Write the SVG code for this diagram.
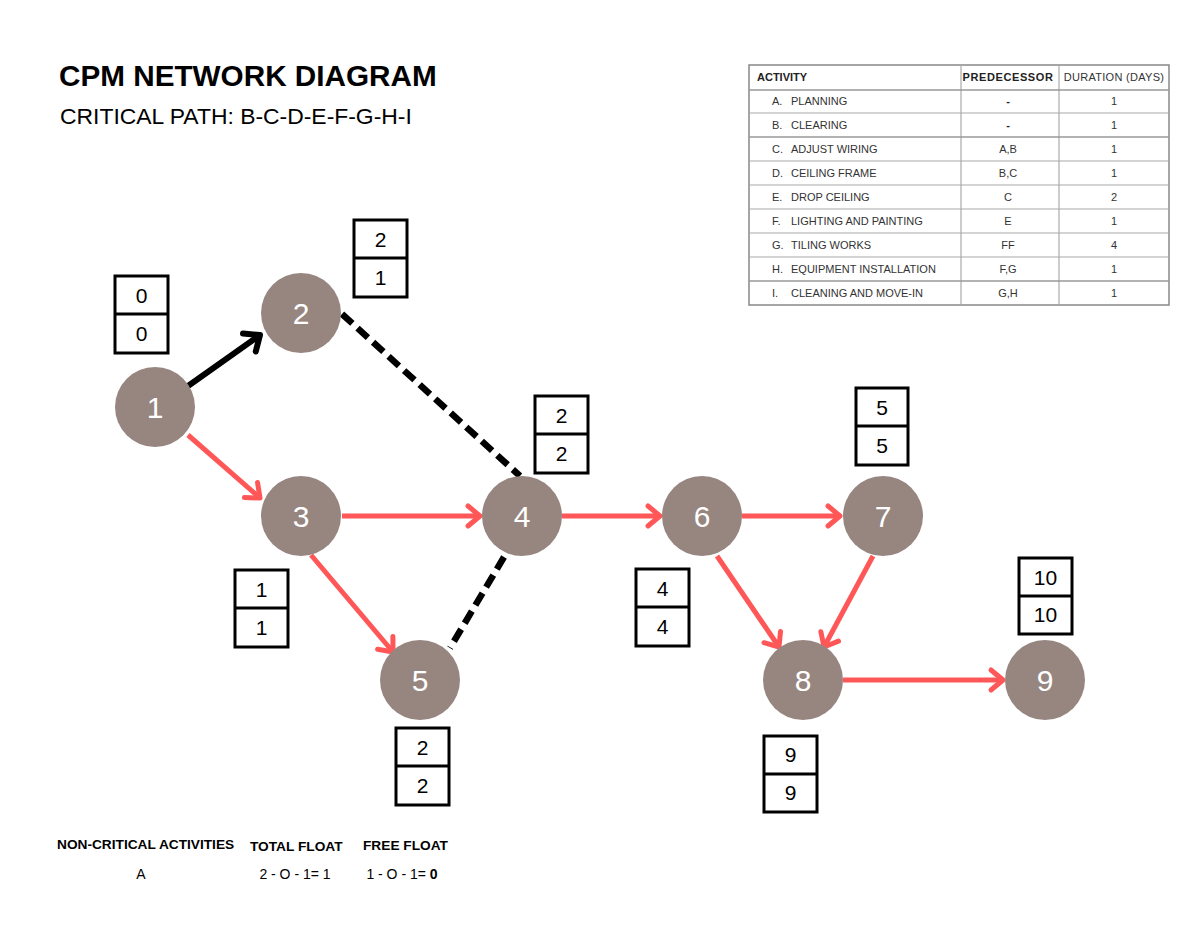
<svg xmlns="http://www.w3.org/2000/svg" width="1200" height="927" viewBox="0 0 1200 927">
<style>
.title{font-family:"Liberation Sans",Arial,sans-serif;font-weight:bold;font-size:29.7px;fill:#000}
.sub{font-family:"Liberation Sans",Arial,sans-serif;font-size:22.9px;fill:#000}
.node circle{fill:#978680}
.node text{font-family:"Liberation Sans",Arial,sans-serif;font-size:30px;fill:#fff;text-anchor:middle}
.box rect{fill:#fff;stroke:#000;stroke-width:3}
.box line{stroke:#000;stroke-width:3}
.box text{font-family:"Liberation Sans",Arial,sans-serif;font-size:21px;fill:#000;text-anchor:middle}
.crit{stroke:#FF5757;stroke-width:5;fill:none;marker-end:url(#arR)}
.blk{stroke:#000;stroke-width:6;fill:none;marker-end:url(#arK)}
.dash{stroke:#000;stroke-width:6.5;fill:none;stroke-dasharray:14 7}
.tb{font-family:"Liberation Sans",Arial,sans-serif;font-size:11px;fill:#333}
.tbh{font-family:"Liberation Sans",Arial,sans-serif;font-size:11px;fill:#222;font-weight:bold}
.c{text-anchor:middle}
.tl{stroke:#aaa;stroke-width:1.2}
.bl{font-family:"Liberation Sans",Arial,sans-serif;font-size:13.7px;font-weight:bold;fill:#000}
.br{font-family:"Liberation Sans",Arial,sans-serif;font-size:14px;fill:#000;text-anchor:middle}
</style>
<defs>
<marker id="arR" markerUnits="userSpaceOnUse" viewBox="-20 -15 25 30" markerWidth="25" markerHeight="30" refX="0" refY="0" orient="auto">
<path d="M-12,-10 L0,0 L-12,10" fill="none" stroke="#FF5757" stroke-width="5" stroke-linecap="round" stroke-linejoin="round"/>
</marker>
<marker id="arK" markerUnits="userSpaceOnUse" viewBox="-20 -15 25 30" markerWidth="25" markerHeight="30" refX="0" refY="0" orient="auto">
<path d="M-13,-11 L0,0 L-13,11" fill="none" stroke="#000" stroke-width="6" stroke-linecap="round" stroke-linejoin="round"/>
</marker>
</defs>
<rect width="1200" height="927" fill="#fff"/>
<text class="title" x="59" y="86">CPM NETWORK DIAGRAM</text>
<text class="sub" x="60" y="124">CRITICAL PATH: B-C-D-E-F-G-H-I</text>

<g id="table">
<rect x="749" y="65" width="420" height="240" fill="#fff" stroke="#888" stroke-width="1.5"/>
<line class="tl" x1="961" y1="65" x2="961" y2="305"/>
<line class="tl" x1="1059" y1="65" x2="1059" y2="305"/>
<line x1="749" y1="90" x2="1169" y2="90" stroke="#999" stroke-width="1.5"/>
<line class="tl" x1="749" y1="113" x2="1169" y2="113"/>
<line x1="749" y1="137" x2="1169" y2="137" stroke="#999" stroke-width="1.5"/>
<line class="tl" x1="749" y1="161" x2="1169" y2="161"/>
<line class="tl" x1="749" y1="185" x2="1169" y2="185"/>
<line class="tl" x1="749" y1="209" x2="1169" y2="209"/>
<line class="tl" x1="749" y1="233" x2="1169" y2="233"/>
<line class="tl" x1="749" y1="257" x2="1169" y2="257"/>
<line x1="749" y1="281" x2="1169" y2="281" stroke="#999" stroke-width="1.5"/>
<text class="tbh" x="757" y="81">ACTIVITY</text>
<text class="tbh c" x="1008" y="81" letter-spacing="0.6">PREDECESSOR</text>
<text class="tb c" x="1114" y="81" letter-spacing="0.3">DURATION (DAYS)</text>
<text class="tb" x="772" y="105">A.</text><text class="tb" x="791" y="105">PLANNING</text>
<text class="tb" x="772" y="129">B.</text><text class="tb" x="791" y="129">CLEARING</text>
<text class="tb" x="772" y="153">C.</text><text class="tb" x="791" y="153">ADJUST WIRING</text>
<text class="tb" x="772" y="177">D.</text><text class="tb" x="791" y="177">CEILING FRAME</text>
<text class="tb" x="772" y="201">E.</text><text class="tb" x="791" y="201">DROP CEILING</text>
<text class="tb" x="772" y="225">F.</text><text class="tb" x="791" y="225">LIGHTING AND PAINTING</text>
<text class="tb" x="772" y="249">G.</text><text class="tb" x="791" y="249">TILING WORKS</text>
<text class="tb" x="772" y="273">H.</text><text class="tb" x="791" y="273">EQUIPMENT INSTALLATION</text>
<text class="tb" x="772" y="297">I.</text><text class="tb" x="791" y="297">CLEANING AND MOVE-IN</text>
<text class="tbh c" x="1008" y="105">-</text><text class="tb c" x="1114" y="105">1</text>
<text class="tbh c" x="1008" y="129">-</text><text class="tb c" x="1114" y="129">1</text>
<text class="tb c" x="1008" y="153">A,B</text><text class="tb c" x="1114" y="153">1</text>
<text class="tb c" x="1008" y="177">B,C</text><text class="tb c" x="1114" y="177">1</text>
<text class="tb c" x="1008" y="201">C</text><text class="tb c" x="1114" y="201">2</text>
<text class="tb c" x="1008" y="225">E</text><text class="tb c" x="1114" y="225">1</text>
<text class="tb c" x="1008" y="249">FF</text><text class="tb c" x="1114" y="249">4</text>
<text class="tb c" x="1008" y="273">F,G</text><text class="tb c" x="1114" y="273">1</text>
<text class="tb c" x="1008" y="297">G,H</text><text class="tb c" x="1114" y="297">1</text>
</g>

<g id="connectors">
<line class="blk" x1="188" y1="386" x2="260" y2="335"/>
<line class="crit" x1="188" y1="435" x2="260" y2="498"/>
<line class="crit" x1="342" y1="516" x2="480" y2="516"/>
<line class="crit" x1="311" y1="555" x2="393" y2="652"/>
<line class="dash" x1="342" y1="314" x2="520" y2="476"/>
<line class="dash" x1="504" y1="557" x2="450" y2="648"/>
<line class="crit" x1="562" y1="516" x2="660" y2="516"/>
<line class="crit" x1="742" y1="516" x2="840" y2="516"/>
<line class="crit" x1="717" y1="556" x2="779" y2="647"/>
<line class="crit" x1="873" y1="556" x2="824" y2="647"/>
<line class="crit" x1="843" y1="680" x2="1003" y2="680"/>
</g>

<g id="node1" class="node"><circle cx="155" cy="407" r="40"/><text x="155" y="418">1</text></g>
<g id="node2" class="node"><circle cx="301" cy="313" r="40"/><text x="301" y="324">2</text></g>
<g id="node3" class="node"><circle cx="301" cy="516" r="40"/><text x="301" y="527">3</text></g>
<g id="node4" class="node"><circle cx="522" cy="516" r="40"/><text x="522" y="527">4</text></g>
<g id="node5" class="node"><circle cx="420" cy="680" r="40"/><text x="420" y="691">5</text></g>
<g id="node6" class="node"><circle cx="702" cy="516" r="40"/><text x="702" y="527">6</text></g>
<g id="node7" class="node"><circle cx="883" cy="516" r="40"/><text x="883" y="527">7</text></g>
<g id="node8" class="node"><circle cx="803" cy="680" r="40"/><text x="803" y="691">8</text></g>
<g id="node9" class="node"><circle cx="1045" cy="680" r="40"/><text x="1045" y="691">9</text></g>

<g id="box1" class="box"><rect x="115" y="276" width="53" height="77"/><line x1="115" y1="314" x2="168" y2="314"/><text x="141.5" y="303">0</text><text x="141.5" y="341">0</text></g>
<g id="box2" class="box"><rect x="354" y="220" width="53" height="77"/><line x1="354" y1="258" x2="407" y2="258"/><text x="380.5" y="247">2</text><text x="380.5" y="285">1</text></g>
<g id="box3" class="box"><rect x="235" y="570" width="53" height="77"/><line x1="235" y1="608" x2="288" y2="608"/><text x="261.5" y="597">1</text><text x="261.5" y="635">1</text></g>
<g id="box4" class="box"><rect x="535" y="396" width="53" height="77"/><line x1="535" y1="434" x2="588" y2="434"/><text x="561.5" y="423">2</text><text x="561.5" y="461">2</text></g>
<g id="box5" class="box"><rect x="396" y="728" width="53" height="77"/><line x1="396" y1="766" x2="449" y2="766"/><text x="422.5" y="755">2</text><text x="422.5" y="793">2</text></g>
<g id="box6" class="box"><rect x="636" y="569" width="53" height="77"/><line x1="636" y1="607" x2="689" y2="607"/><text x="662.5" y="596">4</text><text x="662.5" y="634">4</text></g>
<g id="box7" class="box"><rect x="856" y="388" width="52" height="77"/><line x1="856" y1="426" x2="908" y2="426"/><text x="882" y="415">5</text><text x="882" y="453">5</text></g>
<g id="box8" class="box"><rect x="764" y="736" width="53" height="76"/><line x1="764" y1="774" x2="817" y2="774"/><text x="790.5" y="762">9</text><text x="790.5" y="800">9</text></g>
<g id="box9" class="box"><rect x="1019" y="558" width="53" height="76"/><line x1="1019" y1="596" x2="1072" y2="596"/><text x="1045.5" y="585">10</text><text x="1045.5" y="622">10</text></g>

<g id="floats">
<text class="bl" x="57" y="849">NON-CRITICAL ACTIVITIES</text>
<text class="bl" x="250" y="851">TOTAL FLOAT</text>
<text class="bl" x="363" y="850">FREE FLOAT</text>
<text class="br" x="141" y="879">A</text>
<text class="br" x="295" y="879">2 - O - 1= 1</text>
<text class="br" x="402" y="879">1 - O - 1= <tspan font-weight="bold">0</tspan></text>
</g>
</svg>
